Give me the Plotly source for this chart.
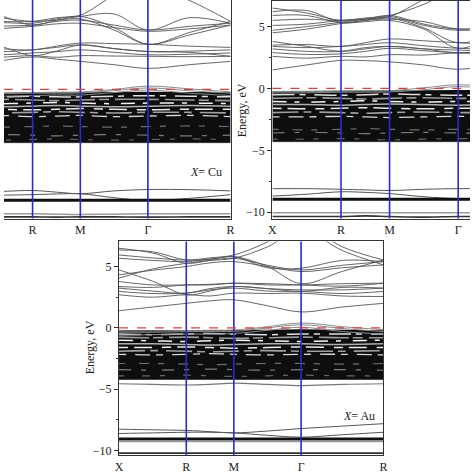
import plotly.graph_objects as go

# ---------------- data ----------------
# k-path X-R-M-Γ-R (sample points at symmetry points and segment midpoints)
K = [0.0, 0.3536, 0.7071, 0.9571, 1.2071, 1.5607, 1.9142, 2.3472, 2.7802]
K_TICKS = [0.0, 0.7071, 1.2071, 1.9142, 2.7802]
K_LABELS = ["X", "R", "M", "Γ", "R"]
Y_TICKS = [-10, -5, 0, 5]
PANEL_LABELS = ["Cu", "Au"]

# ---- panel X = Cu (top left) ----
CU_COND = [
    [2.0, 2.3, 2.63, 2.45, 2.27, 2.0, 1.7, 2.0, 2.27],
    [2.6, 2.6, 2.73, 2.6, 2.73, 2.7, 2.68, 2.65, 2.68],
    [2.9, 2.8, 2.95, 3.05, 3.2, 3.0, 2.8, 2.85, 2.95],
    [3.2, 3.05, 3.2, 3.4, 3.6, 3.3, 3.07, 3.1, 3.2],
    [3.4, 3.3, 3.2, 3.5, 3.75, 3.7, 3.65, 3.5, 3.4],
    [3.7, 3.5, 2.73, 3.1, 3.6, 3.3, 3.07, 3.0, 2.68],
    [4.6, 4.9, 5.1, 5.3, 5.35, 5.0, 4.7, 4.9, 5.2],
    [4.8, 5.1, 5.2, 5.5, 5.6, 5.2, 4.8, 5.1, 5.35],
    [5.2, 5.4, 5.35, 5.7, 5.9, 5.0, 3.65, 4.6, 5.5],
    [5.6, 5.5, 5.5, 5.8, 6.0, 7.6, 8.5, 7.2, 5.5],
    [6.0, 5.8, 5.5, 5.6, 5.7, 4.8, 3.65, 4.4, 5.2],
    [6.4, 6.0, 5.2, 5.6, 5.9, 6.1, 4.8, 5.8, 5.35],
]
CU_VB_TOP = [-0.3, -0.28, -0.25, -0.22, -0.2, -0.2, -0.18, -0.2, -0.22]
CU_VB_BOT = [-4.3, -4.3, -4.28, -4.25, -4.25, -4.28, -4.3, -4.3, -4.3]
CU_BUMP = [
    [-0.3, -0.28, -0.25, -0.22, -0.2, 0.0, 0.27, 0.05, -0.2],
    [-0.4, -0.35, -0.3, -0.3, -0.28, -0.1, 0.12, -0.1, -0.3],
    [-0.6, -0.55, -0.5, -0.45, -0.45, -0.25, -0.05, -0.3, -0.5],
]
CU_LIGHT = [
    [-0.55, -0.6, -0.55, -0.6, -0.6, -0.55, -0.5, -0.55, -0.6],
    [-0.85, -0.8, -0.85, -0.9, -0.85, -0.8, -0.8, -0.85, -0.9],
    [-1.1, -1.15, -1.1, -1.05, -1.1, -1.15, -1.1, -1.1, -1.15],
    [-1.35, -1.4, -1.35, -1.3, -1.35, -1.4, -1.35, -1.3, -1.35],
    [-1.6, -1.6, -1.65, -1.6, -1.55, -1.6, -1.65, -1.6, -1.6],
    [-1.85, -1.9, -1.85, -1.8, -1.85, -1.9, -1.85, -1.85, -1.9],
    [-2.15, -2.1, -2.2, -2.15, -2.1, -2.2, -2.15, -2.1, -2.2],
]
CU_DARK = [
    [-3.0, -3.05, -3.0, -2.95, -3.0, -3.05, -3.0, -2.95, -3.0],
    [-3.7, -3.65, -3.7, -3.75, -3.7, -3.65, -3.7, -3.75, -3.7],
    [-4.05, -4.1, -4.05, -4.0, -4.05, -4.1, -4.05, -4.0, -4.05],
]
CU_LOW = [
    [-8.3, -8.25, -8.17, -8.3, -8.43, -8.2, -8.09, -8.1, -8.2],
    [-8.6, -8.55, -8.5, -8.45, -8.43, -8.75, -8.97, -8.8, -8.5],
    [-8.95, -8.95, -8.95, -8.95, -8.95, -8.95, -8.95, -8.95, -8.95],
    [-10.05, -10.05, -10.05, -10.08, -10.1, -10.08, -10.05, -10.05, -10.05],
    [-10.3, -10.3, -10.3, -10.32, -10.3, -10.3, -10.32, -10.3, -10.3],
]

# ---- middle compound (top right) ----
TR_COND = [
    [1.5, 1.9, 2.27, 2.25, 2.15, 1.9, 1.55, 2.0, 2.3],
    [2.6, 2.45, 2.6, 2.55, 2.73, 2.7, 2.87, 2.7, 2.6],
    [2.9, 2.75, 2.8, 3.0, 3.25, 3.05, 2.9, 2.9, 2.8],
    [3.2, 3.0, 3.0, 3.3, 3.4, 3.2, 3.1, 3.0, 3.0],
    [3.4, 3.3, 3.4, 3.55, 3.7, 3.45, 3.25, 3.2, 3.4],
    [3.5, 3.55, 3.4, 3.7, 4.0, 3.85, 3.7, 3.5, 3.4],
    [3.8, 3.4, 3.0, 3.2, 3.4, 3.2, 2.87, 3.1, 3.0],
    [4.5, 4.8, 5.25, 5.5, 5.8, 5.1, 4.7, 4.9, 5.2],
    [4.7, 5.0, 5.35, 5.6, 5.9, 5.2, 4.8, 5.0, 5.3],
    [5.1, 5.2, 5.5, 5.6, 5.7, 4.9, 3.7, 4.5, 5.5],
    [5.5, 5.6, 5.5, 5.7, 5.9, 6.8, 8.0, 6.8, 5.6],
    [5.9, 5.9, 5.3, 5.4, 5.5, 4.8, 3.25, 4.4, 5.0],
    [6.2, 6.3, 5.35, 5.5, 5.8, 7.2, 8.5, 7.0, 5.4],
    [6.5, 6.1, 5.5, 5.6, 5.6, 5.4, 4.8, 5.1, 5.5],
]
TR_VB_TOP = [-0.2, -0.2, -0.2, -0.2, -0.18, -0.15, -0.12, -0.15, -0.2]
TR_VB_BOT = [-4.3, -4.3, -4.3, -4.28, -4.25, -4.25, -4.28, -4.3, -4.3]
TR_BUMP = [
    [-0.25, -0.25, -0.22, -0.2, -0.18, 0.05, 0.3, 0.05, -0.2],
    [-0.35, -0.35, -0.3, -0.3, -0.28, -0.1, 0.15, -0.1, -0.3],
]
TR_LIGHT = [
    [-0.5, -0.5, -0.55, -0.5, -0.45, -0.5, -0.55, -0.5, -0.5],
    [-0.8, -0.75, -0.8, -0.85, -0.8, -0.75, -0.8, -0.8, -0.8],
    [-1.05, -1.1, -1.05, -1.0, -1.05, -1.1, -1.05, -1.05, -1.1],
    [-1.3, -1.3, -1.35, -1.3, -1.25, -1.3, -1.35, -1.3, -1.3],
    [-1.6, -1.65, -1.6, -1.55, -1.6, -1.65, -1.6, -1.6, -1.65],
    [-1.95, -1.9, -1.95, -2.0, -1.95, -1.9, -1.95, -1.95, -1.9],
    [-2.3, -2.3, -2.25, -2.3, -2.35, -2.3, -2.25, -2.3, -2.3],
]
TR_DARK = [
    [-3.3, -3.35, -3.3, -3.25, -3.3, -3.35, -3.3, -3.3, -3.3],
    [-3.6, -3.55, -3.6, -3.65, -3.6, -3.55, -3.6, -3.6, -3.6],
    [-4.1, -4.1, -4.05, -4.1, -4.15, -4.1, -4.05, -4.1, -4.1],
]
TR_LOW = [
    [-8.1, -8.1, -8.15, -8.2, -8.25, -8.15, -8.1, -8.1, -8.15],
    [-8.7, -8.55, -8.35, -8.4, -8.5, -8.75, -8.9, -8.8, -8.5],
    [-8.95, -8.95, -8.95, -8.95, -8.95, -8.95, -8.95, -8.95, -8.95],
    [-10.05, -10.05, -10.05, -10.05, -10.05, -10.05, -10.05, -10.05, -10.05],
    [-10.35, -10.35, -10.35, -10.3, -10.35, -10.4, -10.35, -10.35, -10.35],
]

# ---- panel X = Au (bottom) ----
AU_COND = [
    [1.4, 1.7, 2.0, 2.2, 2.29, 1.8, 1.3, 1.7, 2.0],
    [2.7, 2.5, 2.7, 2.6, 2.83, 2.8, 2.83, 2.6, 2.56],
    [2.97, 2.8, 2.83, 3.1, 3.24, 3.0, 2.97, 2.8, 2.97],
    [3.24, 3.0, 2.83, 3.2, 3.37, 3.2, 3.1, 3.1, 3.24],
    [3.37, 3.3, 3.5, 3.55, 3.64, 3.6, 3.5, 3.4, 3.64],
    [3.78, 3.5, 3.5, 3.5, 3.64, 3.5, 3.5, 3.6, 3.64],
    [4.72, 3.8, 2.7, 3.0, 3.37, 3.2, 2.97, 3.3, 3.24],
    [4.32, 4.7, 5.0, 5.3, 5.4, 5.0, 4.59, 4.9, 5.13],
    [4.05, 4.8, 5.26, 5.5, 5.67, 5.1, 4.72, 5.1, 5.4],
    [5.67, 5.5, 5.4, 5.6, 5.8, 5.0, 3.6, 4.6, 5.53],
    [5.94, 5.7, 5.53, 5.7, 5.94, 7.0, 8.5, 6.6, 5.53],
    [6.34, 6.2, 5.53, 5.6, 5.8, 4.9, 4.86, 5.5, 5.4],
    [6.48, 6.1, 5.26, 5.5, 5.67, 6.6, 8.0, 6.3, 5.13],
]
AU_VB_TOP = [-0.2, -0.2, -0.2, -0.2, -0.18, -0.15, -0.12, -0.15, -0.2]
AU_VB_BOT = [-4.2, -4.2, -4.2, -4.2, -4.2, -4.22, -4.25, -4.22, -4.2]
AU_BUMP = [
    [-0.25, -0.25, -0.22, -0.2, -0.18, 0.1, 0.4, 0.1, -0.15],
    [-0.35, -0.35, -0.3, -0.3, -0.28, 0.0, 0.25, -0.05, -0.3],
    [-0.6, -0.55, -0.5, -0.5, -0.45, -0.2, 0.05, -0.3, -0.5],
]
AU_LIGHT = [
    [-0.5, -0.55, -0.5, -0.45, -0.5, -0.55, -0.5, -0.5, -0.5],
    [-0.75, -0.8, -0.75, -0.8, -0.85, -0.8, -0.75, -0.8, -0.8],
    [-1.0, -1.05, -1.1, -1.05, -1.0, -1.05, -1.1, -1.05, -1.0],
    [-1.3, -1.3, -1.35, -1.4, -1.35, -1.3, -1.3, -1.35, -1.3],
    [-1.6, -1.6, -1.55, -1.6, -1.65, -1.6, -1.55, -1.6, -1.6],
    [-1.9, -1.85, -1.9, -1.95, -1.9, -1.85, -1.9, -1.9, -1.85],
    [-2.15, -2.2, -2.15, -2.1, -2.15, -2.2, -2.15, -2.15, -2.2],
]
AU_DARK = [
    [-2.9, -2.9, -2.95, -3.0, -2.95, -2.9, -2.9, -2.95, -2.9],
    [-3.4, -3.45, -3.4, -3.35, -3.4, -3.45, -3.4, -3.4, -3.45],
    [-3.9, -3.9, -3.85, -3.9, -3.95, -3.9, -3.85, -3.9, -3.9],
]
AU_SEMICORE = [-4.55, -4.6, -4.65, -4.6, -4.5, -4.6, -4.7, -4.6, -4.55]
AU_LOW = [
    [-8.25, -8.3, -8.35, -8.45, -8.55, -8.4, -8.2, -8.0, -7.8],
    [-8.6, -8.55, -8.5, -8.5, -8.55, -8.75, -8.9, -8.7, -8.5],
    [-9.05, -9.05, -9.05, -9.05, -9.05, -9.05, -9.05, -9.05, -9.05],
    [-9.25, -9.25, -9.25, -9.25, -9.25, -9.25, -9.25, -9.25, -9.25],
    [-10.2, -10.2, -10.2, -10.2, -10.2, -10.2, -10.2, -10.2, -10.2],
]

# ---------------- drawing ----------------
FONT = "Liberation Serif"
LOW_STYLE = [("#555555", 1.0), ("#555555", 1.0), ("#111111", 3.0), ("#9a9a9a", 1.5), ("#333333", 1.6)]
LIGHT_STYLE = [("#e0e0e0", 1.5, "22px,5px,6px,9px"), ("#9a9a9a", 1.6, "30px,4px,10px,6px"),
               ("#f5f5f5", 1.5, "14px,8px,5px,12px"), ("#b0b0b0", 1.5, "solid"),
               ("#ececec", 1.5, "9px,6px,18px,10px"), ("#a0a0a0", 1.6, "26px,5px,8px,8px"),
               ("#d8d8d8", 1.3, "7px,9px,15px,6px")]
DARK_STYLE = [("#6e6e6e", 1.2, "6px,14px,10px,9px"), ("#7c7c7c", 1.2, "12px,10px,5px,16px"),
              ("#666666", 1.2, "5px,18px,8px,10px")]

fig = go.Figure()


def line(xa, ya, y, color, width, dash="solid", shape="spline"):
    fig.add_trace(go.Scatter(x=K, y=y, mode="lines", xaxis=xa, yaxis=ya, hoverinfo="skip",
                             line=dict(color=color, width=width, dash=dash, shape=shape, smoothing=1.0)))


def panel(xa, ya, cond, vb_top, vb_bot, bump, light, dark, low, semicore=None):
    # dense valence manifold
    fig.add_trace(go.Scatter(x=K, y=vb_top, mode="lines", xaxis=xa, yaxis=ya, hoverinfo="skip",
                             line=dict(width=0, color="#111111")))
    fig.add_trace(go.Scatter(x=K, y=vb_bot, mode="lines", xaxis=xa, yaxis=ya, hoverinfo="skip",
                             fill="tonexty", fillcolor="#0e0e0e", line=dict(width=0.8, color="#333333")))
    for y, (c, w, d) in zip(light, LIGHT_STYLE):
        line(xa, ya, y, c, w, d)
    for y, (c, w, d) in zip(dark, DARK_STYLE):
        line(xa, ya, y, c, w, d)
    for y in bump:
        line(xa, ya, y, "#8a8a8a", 1.0)
    if semicore is not None:
        line(xa, ya, semicore, "#777777", 1.2)
    for y in cond:
        line(xa, ya, y, "#555555", 0.9)
    for y, (c, w) in zip(low, LOW_STYLE):
        line(xa, ya, y, c, w)


panel("x", "y", CU_COND, CU_VB_TOP, CU_VB_BOT, CU_BUMP, CU_LIGHT, CU_DARK, CU_LOW)
panel("x2", "y2", TR_COND, TR_VB_TOP, TR_VB_BOT, TR_BUMP, TR_LIGHT, TR_DARK, TR_LOW)
panel("x3", "y3", AU_COND, AU_VB_TOP, AU_VB_BOT, AU_BUMP, AU_LIGHT, AU_DARK, AU_LOW, AU_SEMICORE)

W = 474.0
tickfont = dict(family=FONT, size=12, color="#222222")
axcol = "#333333"

xcommon = dict(tickvals=K_TICKS, ticktext=K_LABELS, ticks="", showgrid=False, zeroline=False,
               showline=True, linecolor=axcol, linewidth=1.3, tickfont=tickfont)
ycommon = dict(tickvals=Y_TICKS, showgrid=False, zeroline=False, showline=True, linecolor=axcol,
               linewidth=1.3, tickfont=tickfont, ticks="outside", ticklen=4, tickcolor=axcol,
               minor=dict(dtick=2.5, tick0=0, ticks="outside", ticklen=2, tickcolor=axcol))

fig.update_layout(
    width=474, height=474, margin=dict(l=0, r=0, t=0, b=0),
    paper_bgcolor="white", plot_bgcolor="white", showlegend=False,
    font=dict(family=FONT, size=12, color="#222222"),
    xaxis=dict(domain=[0, 230.5 / W], range=[0.408, 2.7802], anchor="y", **xcommon),
    yaxis=dict(domain=[1 - 220 / W, 1], range=[-10.44, 7.23], anchor="x", side="right",
               showline=True, linecolor=axcol, linewidth=1.3, showticklabels=False,
               showgrid=False, zeroline=False, ticks=""),
    xaxis2=dict(domain=[273 / W, 1], range=[0, 2.036], anchor="y2", mirror=True, **xcommon),
    yaxis2=dict(domain=[1 - 220 / W, 1 - 1 / W], range=[-10.52, 7.07], anchor="x2", **ycommon),
    xaxis3=dict(domain=[117 / W, 386 / W], range=[0, 2.7802], anchor="y3", mirror=True, **xcommon),
    yaxis3=dict(domain=[1 - 458 / W, 1 - 243 / W], range=[-10.36, 7.04], anchor="x3", mirror=True, **ycommon),
)

shapes = []
for xa, ya in [("x", "y"), ("x2", "y2"), ("x3", "y3")]:
    for k in K_TICKS[1:4]:
        shapes.append(dict(type="line", xref=xa, yref=ya + " domain", x0=k, x1=k, y0=0, y1=1,
                           line=dict(color="#2a2ad0", width=1.6), layer="above"))
    shapes.append(dict(type="line", xref=xa + " domain", yref=ya, x0=0, x1=1, y0=0, y1=0,
                       line=dict(color="#d04545", width=1.3, dash="dash"), layer="above"))
fig.update_layout(shapes=shapes)

ann_font = dict(family=FONT, size=12, color="#222222")
ann_common = dict(xref="paper", yref="paper", showarrow=False, font=ann_font,
                  xanchor="center", yanchor="middle")
fig.add_annotation(text="Energy, eV", x=242 / W, y=1 - 111 / W, textangle=-90, **ann_common)
fig.add_annotation(text="Energy, eV", x=87 / W, y=1 - 350 / W, textangle=-90, **ann_common)
fig.add_annotation(text="<i>X</i>= " + PANEL_LABELS[0], x=205 / W, y=1 - 173 / W, **ann_common)
fig.add_annotation(text="<i>X</i>= " + PANEL_LABELS[1], x=361 / W, y=1 - 419 / W, **ann_common)

fig.write_html("out.html", config={"displayModeBar": False},
               post_script="document.body.style.margin='0';document.body.style.overflow='hidden';")
